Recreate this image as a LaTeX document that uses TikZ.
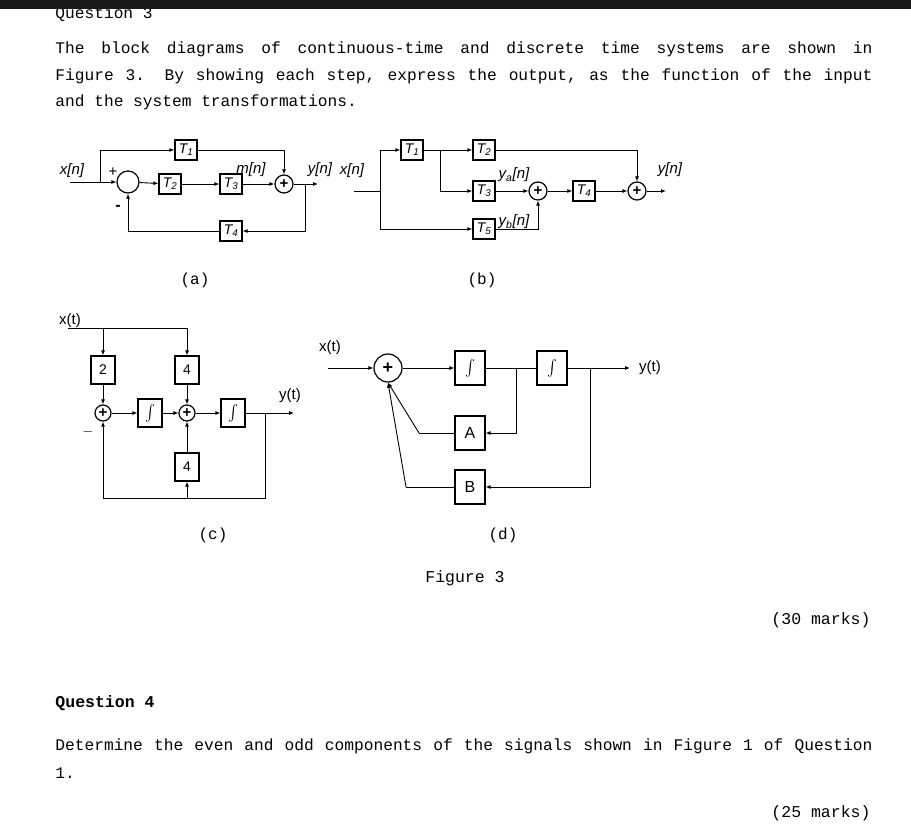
\documentclass[tikz,border=0pt]{standalone}
\usepackage{fontspec}
\setmainfont{Liberation Sans}
\newfontfamily\mono{Liberation Mono}
\usetikzlibrary{arrows.meta}
\newcommand{\intg}{\scalebox{1.5}[1.6]{$\int$}}
\newcommand{\jline}[1]{\makebox[817pt][s]{#1}}
\begin{document}
\begin{tikzpicture}[x=1pt,y=-1pt,
  blk/.style={draw,line width=1.3pt,minimum width=22pt,minimum height=20pt,inner sep=0pt,font=\fontsize{14}{14}\selectfont\itshape},
  bigblk/.style={draw,line width=1.2pt,minimum width=24pt,minimum height=28pt,inner sep=0pt,font=\fontsize{14}{14}\selectfont},
  sumc/.style={draw,line width=1.2pt,circle,minimum size=18pt,inner sep=0pt,font=\fontsize{15}{15}\selectfont\bfseries},
  lbl/.style={font=\fontsize{15}{15}\selectfont\itshape,inner sep=1pt},
  tlbl/.style={font=\fontsize{15}{15}\selectfont,inner sep=1pt},
  txt/.style={font=\mono\fontsize{16.2}{16.2}\selectfont,anchor=west,inner sep=0pt},
  ar/.style={-{Latex[length=5pt,width=4pt]}},
  every path/.style={line width=0.9pt}]
\useasboundingbox (0,0) rectangle (911,833);
\fill[white] (0,0) rectangle (911,833);
% header
\node[txt] (q3) at (55,14) {Question 3};
\fill[black!80!gray] (0,0) rectangle (911,9);
\node[txt] (l1) at (55,49) {\jline{The block diagrams of continuous-time and discrete time systems are shown in}};
\node[txt] (l2) at (55,76) {\jline{Figure 3. By showing each step, express the output, as the function of the input}};
\node[txt] (l3) at (55,102) {and the system transformations.};
% ---------- (a)
\node[lbl] (ax) at (72,171) {x[n]};
\coordinate (aIn) at (70,182);
\coordinate (aB) at (100,182);
\node[sumc,minimum size=22pt] (aS1) at (128,182) {};
\node[blk] (aT1) at (186,150) {T\textsubscript{1}};
\node[blk] (aT2) at (170,184) {T\textsubscript{2}};
\node[blk] (aT3) at (231,184) {T\textsubscript{3}};
\node[sumc] (aS2) at (284,184) {+};
\node[blk] (aT4) at (231,231) {T\textsubscript{4}};
\coordinate (aOut) at (318,184);
\coordinate (aFB) at (305,184);
\draw (aIn) -- (aB);
\draw[ar] (aB) -- (aS1);
\draw[ar] (aB) |- (aT1);
\draw[ar] (aT1) -| (aS2);
\draw[ar] (aS1) -- (aT2);
\draw[ar] (aT2) -- (aT3);
\draw[ar] (aT3) -- (aS2);
\draw[ar] (aS2) -- (aOut);
\draw[ar] (aFB) |- (aT4);
\draw[ar] (aT4) -| (aS1);
\node[tlbl] (ap) at (113,172) {+};
\node[font=\bfseries\fontsize{16}{16}\selectfont] (am) at (118,208) {-};
\node[lbl] (amn) at (251,170) {m[n]};
\node[lbl] (ayn) at (320,170) {y[n]};
\node[font=\mono\fontsize{16}{16}\selectfont] (la) at (195,280) {(a)};
% ---------- (b)
\node[lbl] (bx) at (352,171) {x[n]};
\coordinate (bIn) at (354,191);
\coordinate (bB) at (380,191);
\node[blk] (bT1) at (412,150) {T\textsubscript{1}};
\node[blk] (bT2) at (484,150) {T\textsubscript{2}};
\node[blk] (bT3) at (484,191) {T\textsubscript{3}};
\node[blk] (bT5) at (484,229) {T\textsubscript{5}};
\node[sumc] (bS1) at (538,191) {+};
\node[blk] (bT4) at (584,191) {T\textsubscript{4}};
\node[sumc] (bS2) at (637,191) {+};
\coordinate (bJ) at (440,150);
\coordinate (bOut) at (666,191);
\draw (bIn) -- (bB);
\draw[ar] (bB) |- (bT1);
\draw[ar] (bB) |- (bT5);
\draw (bT1) -- (bJ);
\draw[ar] (bJ) -- (bT2);
\draw[ar] (bJ) |- (bT3);
\draw[ar] (bT2) -| (bS2);
\draw[ar] (bT3) -- (bS1);
\draw[ar] (bT5) -| (bS1);
\draw[ar] (bS1) -- (bT4);
\draw[ar] (bT4) -- (bS2);
\draw[ar] (bS2) -- (bOut);
\node[lbl] (bya) at (514,175) {y\textsubscript{a}[n]};
\node[lbl] (byb) at (514,222) {y\textsubscript{b}[n]};
\node[lbl] (byn) at (670,170) {y[n]};
\node[font=\mono\fontsize{16}{16}\selectfont] (lb) at (482,280) {(b)};
% ---------- (c)
\node[tlbl] (cx) at (70,321) {x(t)};
\coordinate (cIn) at (68,328);
\coordinate (cB1) at (103,328);
\coordinate (cB2) at (187,328);
\node[bigblk] (c2) at (103,370) {2};
\node[bigblk] (c4a) at (187,370) {4};
\node[sumc,minimum size=16pt] (cS1) at (103,413) {+};
\node[bigblk] (cI1) at (150,413) {\intg};
\node[sumc,minimum size=16pt] (cS2) at (187,413) {+};
\node[bigblk] (cI2) at (233,413) {\intg};
\node[bigblk] (c4b) at (187,467) {4};
\coordinate (cOut) at (294,413);
\coordinate (cF) at (265,413);
\coordinate (cBot) at (187,498);
\draw (cIn) -- (cB2);
\draw[ar] (cB1) -- (c2);
\draw[ar] (cB2) -- (c4a);
\draw[ar] (c2) -- (cS1);
\draw[ar] (c4a) -- (cS2);
\draw[ar] (cS1) -- (cI1);
\draw[ar] (cI1) -- (cS2);
\draw[ar] (cS2) -- (cI2);
\draw[ar] (cI2) -- (cOut);
\draw (cF) |- (cBot);
\draw[ar] (cBot) -| (cS1);
\draw[ar] (cBot) -- (c4b);
\draw[ar] (c4b) -- (cS2);
\node[tlbl] (cy) at (290,396) {y(t)};
\node[tlbl] (cm) at (88,432) {$-$};
\node[font=\mono\fontsize{16}{16}\selectfont] (lc) at (213,535) {(c)};
% ---------- (d)
\node[tlbl] (dx) at (330,348) {x(t)};
\coordinate (dIn) at (328,368);
\node[sumc,minimum size=28pt,font=\fontsize{18}{18}\selectfont\bfseries] (dS) at (388,368) {+};
\node[bigblk,minimum width=30pt,minimum height=34pt,font=\fontsize{16}{16}\selectfont] (dI1) at (470,368) {\intg};
\node[bigblk,minimum width=30pt,minimum height=34pt,font=\fontsize{16}{16}\selectfont] (dI2) at (552,368) {\intg};
\node[bigblk,minimum width=30pt,minimum height=34pt,font=\fontsize{16}{16}\selectfont] (dA) at (470,433) {A};
\node[bigblk,minimum width=30pt,minimum height=34pt,font=\fontsize{16}{16}\selectfont] (dB) at (470,487) {B};
\coordinate (dOut) at (630,368);
\coordinate (dJ1) at (516,368);
\coordinate (dJ2) at (590,368);
\coordinate (dA1) at (419,433);
\coordinate (dB1) at (406,487);
\draw[ar] (dIn) -- (dS);
\draw[ar] (dS) -- (dI1);
\draw (dI1) -- (dI2);
\draw[ar] (dI2) -- (dOut);
\draw[ar] (dJ1) |- (dA);
\draw[ar] (dJ2) |- (dB);
\draw (dA) -- (dA1);
\draw[ar] (dA1) -- (dS.south);
\draw (dB) -- (dB1);
\draw[ar] (dB1) -- (dS.south);
\node[tlbl] (dy) at (650,368) {y(t)};
\node[font=\mono\fontsize{16}{16}\selectfont] (ld) at (503,535) {(d)};
% footer
\node[font=\mono\fontsize{16.5}{16.5}\selectfont] (fig) at (465,578) {Figure 3};
\node[font=\mono\fontsize{16.5}{16.5}\selectfont] (m30) at (821,620) {(30 marks)};
\node[txt,font=\mono\bfseries\fontsize{16.5}{16.5}\selectfont] (q4) at (55,703) {Question 4};
\node[txt] (l4) at (55,746) {\jline{Determine the even and odd components of the signals shown in Figure 1 of Question}};
\node[txt] (l5) at (55,773) {1.};
\node[font=\mono\fontsize{16.5}{16.5}\selectfont] (m25) at (821,813) {(25 marks)};
\end{tikzpicture}
\end{document}
